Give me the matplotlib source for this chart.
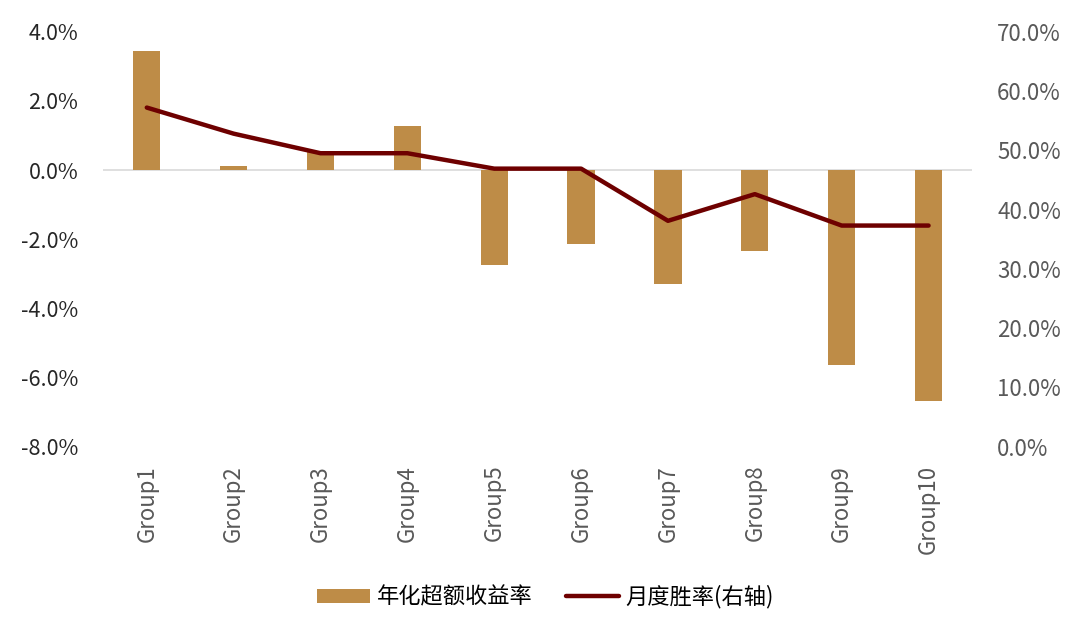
import matplotlib
matplotlib.use("Agg")
import matplotlib.pyplot as plt
from matplotlib.ticker import FuncFormatter, MultipleLocator
import numpy as np

categories = ["Group1", "Group2", "Group3", "Group4", "Group5",
              "Group6", "Group7", "Group8", "Group9", "Group10"]
excess_return = [3.43, 0.11, 0.51, 1.28, -2.75, -2.14, -3.30, -2.33, -5.64, -6.67]  # %
win_rate = [57.2, 52.8, 49.5, 49.5, 46.9, 46.9, 38.1, 42.6, 37.3, 37.3]  # %

bar_label = "年化超额收益率"
line_label = "月度胜率(右轴)"

plt.rcParams['font.family'] = ['Noto Sans CJK SC', 'DejaVu Sans']

fig = plt.figure(figsize=(10.8, 6.4), dpi=100)
ax = fig.add_axes([0.0957, 0.302, 0.9 - 0.0957, 0.9505 - 0.302])
ax2 = ax.twinx()

x = np.arange(len(categories))
bars = ax.bar(x, excess_return, width=0.314, color="#BE8C47", label=bar_label, zorder=2)
ax.axhline(0, color="#d9d9d9", linewidth=1.2, zorder=1)
line, = ax2.plot(x, win_rate, color="#6E0000", linewidth=3.2, solid_capstyle='round',
                 label=line_label, zorder=3)

ax.set_xlim(-0.5, len(categories) - 0.5)
ax.set_ylim(-8, 4)
ax2.set_ylim(0, 70)
ax.yaxis.set_major_locator(MultipleLocator(2))
ax2.yaxis.set_major_locator(MultipleLocator(10))
ax.yaxis.set_major_formatter(FuncFormatter(lambda v, p: f"{v:.1f}%"))
ax2.yaxis.set_major_formatter(FuncFormatter(lambda v, p: f"{v:.1f}%"))

for a in (ax, ax2):
    for s in a.spines.values():
        s.set_visible(False)

ax.tick_params(axis='y', length=0, pad=18, labelsize=15.5, labelcolor="#262626")
ax2.tick_params(axis='y', length=0, pad=18, labelsize=16, labelcolor="#595959")
ax.set_xticks(x)
ax.set_xticklabels(categories, rotation=90, fontsize=16, color="#595959")
ax.tick_params(axis='x', length=0, pad=13)

fig.legend([bars, line], [bar_label, line_label], loc='center',
           bbox_to_anchor=(0.505, 1 - 597 / 640), ncol=2, frameon=False,
           fontsize=16, handlelength=2.4, handleheight=0.65, handletextpad=0.3,
           columnspacing=1.5)

fig.savefig("out.png", dpi=100, facecolor="white")
